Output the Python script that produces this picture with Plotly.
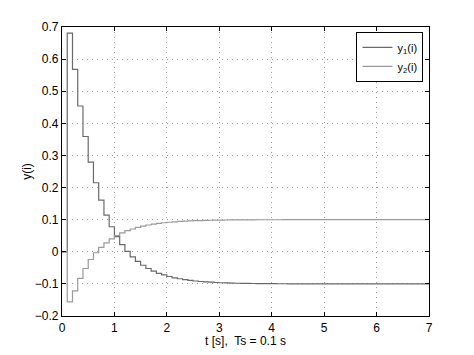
import plotly.graph_objects as go

Ts = 0.1
n_samples = 71
t = [round(k * Ts, 1) for k in range(n_samples)]

y1 = [0.0, 0.681, 0.568, 0.454, 0.359, 0.279, 0.215, 0.161, 0.114, 0.078,
      0.047, 0.022, 0.001, -0.016, -0.030, -0.042, -0.052, -0.060, -0.067, -0.072,
      -0.077, -0.081, -0.084, -0.087, -0.089, -0.091, -0.0925, -0.0938, -0.0948, -0.0957,
      -0.0964, -0.097, -0.0975, -0.098, -0.0983, -0.0986, -0.0988, -0.099, -0.0992, -0.0993,
      -0.0994, -0.0995, -0.0996, -0.0997, -0.0997, -0.0998, -0.0998, -0.0998, -0.0999, -0.0999,
      -0.0999, -0.0999, -0.0999, -0.1, -0.1, -0.1, -0.1, -0.1, -0.1, -0.1,
      -0.1, -0.1, -0.1, -0.1, -0.1, -0.1, -0.1, -0.1, -0.1, -0.1, -0.1]

y2 = [0.0, -0.156, -0.122, -0.083, -0.052, -0.024, -0.003, 0.014, 0.028, 0.040,
      0.050, 0.059, 0.066, 0.071, 0.076, 0.080, 0.0834, 0.0862, 0.0885, 0.0904,
      0.092, 0.0934, 0.0945, 0.0954, 0.0962, 0.0968, 0.0973, 0.0978, 0.0982, 0.0985,
      0.0987, 0.099, 0.0991, 0.0993, 0.0994, 0.0995, 0.0996, 0.0997, 0.0997, 0.0998,
      0.0998, 0.0998, 0.0999, 0.0999, 0.0999, 0.0999, 0.1, 0.1, 0.1, 0.1,
      0.1, 0.1, 0.1, 0.1, 0.1, 0.1, 0.1, 0.1, 0.1, 0.1,
      0.1, 0.1, 0.1, 0.1, 0.1, 0.1, 0.1, 0.1, 0.1, 0.1, 0.1]

x_ticks = [0, 1, 2, 3, 4, 5, 6, 7]
y_ticks = [-0.2, -0.1, 0, 0.1, 0.2, 0.3, 0.4, 0.5, 0.6, 0.7]
y_tick_labels = ["\u22120.2", "\u22120.1", "0", "0.1", "0.2", "0.3", "0.4", "0.5", "0.6", "0.7"]

font_family = "Liberation Sans, Arial, sans-serif"

fig = go.Figure()
fig.add_trace(go.Scatter(x=t, y=y1, mode="lines", line_shape="hv",
                         line=dict(color="#6a6a6a", width=1.2),
                         name="y<sub>1</sub>(i)"))
fig.add_trace(go.Scatter(x=t, y=y2, mode="lines", line_shape="hv",
                         line=dict(color="#9a9a9a", width=1.2),
                         name="y<sub>2</sub>(i)"))

axis_common = dict(showline=True, linecolor="black", linewidth=1.2, mirror="ticks",
                   ticks="inside", ticklen=4, tickcolor="black", automargin=False,
                   showgrid=True, gridcolor="#9a9a9a", griddash="1px,4px", gridwidth=1,
                   zeroline=False, tickfont=dict(family=font_family, size=12, color="black"))

fig.update_xaxes(range=[0, 7], tickvals=x_ticks,
                 title=dict(text="t [s],  Ts = 0.1 s", font=dict(family=font_family, size=12, color="black"),
                            standoff=0),
                 **axis_common)
fig.update_yaxes(range=[-0.2, 0.7], tickvals=y_ticks, ticktext=y_tick_labels,
                 title=dict(text="y(i)", font=dict(family=font_family, size=12, color="black"),
                            standoff=0),
                 **axis_common)

fig.update_layout(
    width=466, height=347,
    margin=dict(l=54, r=45, t=19, b=39),
    paper_bgcolor="white", plot_bgcolor="white",
    showlegend=True,
    legend=dict(x=0.985, y=0.983, xanchor="right", yanchor="top",
                bordercolor="black", borderwidth=1, bgcolor="white",
                font=dict(family=font_family, size=11, color="black"),
                itemwidth=30, tracegroupgap=0),
)

fig.write_html("out.html")
